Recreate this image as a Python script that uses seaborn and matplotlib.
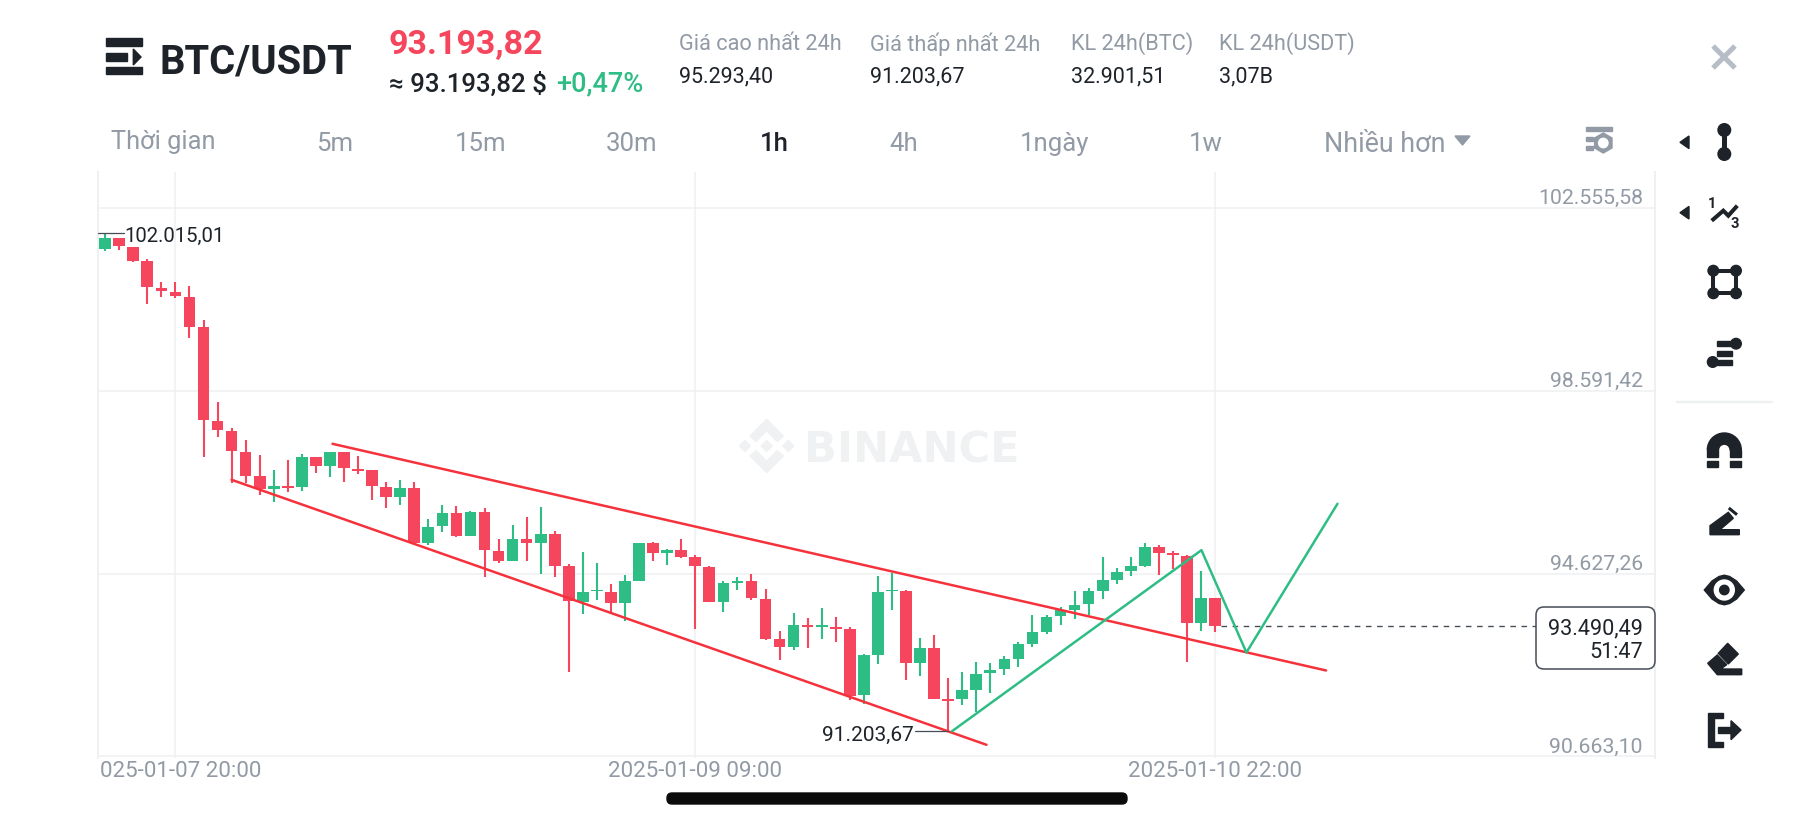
import numpy as np
import pandas as pd
import seaborn as sns
import matplotlib.pyplot as plt
from matplotlib.patches import Polygon, Circle, Wedge, FancyBboxPatch, Rectangle

opens = [101659,101890,101710,101392,100821,100734,100626,99961,97938,97714,
         97266,96739,96457,96522,96500,97151,96956,97252,96898,96862,
         96508,96284,96479,95280,95655,95930,95439,95952,95121,94890,
         95381,95287,95489,94781,94022,94254,94232,93979,94470,95280,
         95063,95128,94976,94767,94022,94420,94463,94080,93213,93033,
         93509,93473,93459,93416,91985,92867,94254,94247,92693,93011,
         91899,91899,92108,92462,92549,92780,93105,93358,93698,93835,
         93958,94254,94492,94680,94789,95200,95063,95013,93560,94102]
closes = [101890,101724,101406,100828,100749,100633,99976,97953,97736,97281,
          96753,96450,96522,96486,97151,96956,97252,96913,96848,96530,
          96277,96479,95294,95641,95930,95439,95952,95135,94890,95381,
          95287,95489,94788,94030,94232,94282,93979,94456,95280,95063,
          95128,94984,94781,94022,94413,94456,94088,93220,93033,93502,
          93473,93502,93423,91978,92852,94232,94282,92700,93011,91906,
          91870,92101,92448,92542,92766,93091,93351,93683,93842,93951,
          94240,94478,94666,94781,95200,95078,95027,93560,94102,93490]
highs = [102015,101905,101710,101442,100944,100951,100850,100127,98336,97787,
         97527,97187,96862,97086,97209,97151,97252,97252,97173,96862,
         96623,96645,96623,95800,96118,96089,95988,96046,95366,95677,
         95858,96074,95547,94839,95099,94853,94391,94586,95280,95309,
         95150,95374,95020,94796,94470,94557,94608,94290,93387,93777,
         93654,93871,93690,93473,92895,94579,94644,94282,93235,93286,
         92361,92491,92715,92679,92838,93149,93719,93719,93900,94240,
         94312,94991,94752,94991,95287,95251,95114,95034,94673,94102]
lows = [101616,101630,101377,100467,100626,100611,99730,97151,97584,96580,
        96595,96320,96183,96399,96414,96797,96710,96609,96775,96219,
        96053,96110,95258,95244,95533,95410,95439,94543,94853,94890,
        94890,94622,94550,92498,93755,94052,93762,93596,94470,94897,
        94803,94962,93416,94015,93792,94282,94044,93184,92744,92968,
        93011,93213,93155,91898,91797,92672,93835,92317,92404,91899,
        91203.67,91776,91624,92029,92433,92592,93033,93315,93503,93647,
        93734,94066,94391,94579,94760,94594,94716,92708,93380,93358]

upper_x = [16.18, 86.9]
upper_y = [97440, 92527]
lower_x = [9.0, 62.73]
lower_y = [96660, 90916]
path_x = [60.28, 78.03, 81.23, 87.71]
path_y = [91212, 95135, 92917, 96140]

price_ticks = [102555.58, 98591.42, 94627.26, 90663.10]
price_labels = ['102.555,58', '98.591,42', '94.627,26', '90.663,10']
date_pos = [5, 42, 79]
date_labels = ['025-01-07 20:00', '2025-01-09 09:00', '2025-01-10 22:00']
last_price = 93490.49

RED = '#F6465D'
GREEN = '#2EBD85'
LINE_RED = '#F5323C'
DARK = '#1E2329'
GREY = '#929AA5'
GRID = '#EFF0F2'

sns.set_theme(style='white')
plt.rcParams['font.family'] = ['Roboto', 'DejaVu Sans']

fig = plt.figure(figsize=(17.93, 8.28), dpi=100)
ax = fig.add_axes([98/1793, (828-758.5)/828, (1655-98)/1793, (758-172)/828])

df = pd.DataFrame({'i': np.arange(len(opens)), 'open': opens, 'close': closes,
                   'high': highs, 'low': lows})
df['bottom'] = df[['open', 'close']].min(axis=1)
df['body'] = (df['close'] - df['open']).abs()
df['up'] = df['close'] > df['open']

wicks = df.melt(id_vars=['i', 'up'], value_vars=['high', 'low'], value_name='price')
for up, col in [(True, GREEN), (False, RED)]:
    w = wicks[wicks['up'] == up]
    sns.lineplot(data=w, x='i', y='price', units='i', estimator=None, color=col,
                 lw=1.5, solid_capstyle='butt', ax=ax, legend=False)
    b = df[df['up'] == up]
    sns.barplot(data=b, x='i', y='body', bottom=b['bottom'].values, native_scale=True,
                color=col, saturation=1, width=0.83, errorbar=None, linewidth=0, ax=ax)

sns.lineplot(x=upper_x, y=upper_y, color=LINE_RED, lw=1.8, ax=ax, zorder=4)
sns.lineplot(x=lower_x, y=lower_y, color=LINE_RED, lw=1.8, ax=ax, zorder=4)
sns.lineplot(x=path_x, y=path_y, color=GREEN, lw=1.8, sort=False, estimator=None, ax=ax, zorder=5)
ax.plot([79.42, 102.5], [last_price, last_price], color='#474D57', lw=1, dashes=(4, 4), zorder=3)

ax.set_xlim(-0.51, 110.31)
ax.set_ylim(90641, 103342)
ax.set_xlabel('')
ax.set_ylabel('')
ax.set_yticks(price_ticks)
ax.set_xticks(date_pos)
ax.set_xticklabels([])
ax.set_yticklabels([])
ax.tick_params(length=0)
ax.grid(True, color=GRID, lw=1.1)
ax.set_axisbelow(True)
for side in ['top', 'bottom']:
    ax.spines[side].set_visible(False)
for side in ['left', 'right']:
    ax.spines[side].set_color(GRID)
    ax.spines[side].set_linewidth(1.4)

for val, lab in zip(price_ticks, price_labels):
    ax.annotate(lab, xy=(1, val), xycoords=ax.get_yaxis_transform(), xytext=(-12, 10),
                textcoords='offset pixels', ha='right', va='center', fontsize=15.3, color=GREY)

# everything outside the plot is laid out in screen pixels
ui = fig.add_axes([0, 0, 1, 1])
ui.set_xlim(0, 1793)
ui.set_ylim(828, 0)
ui.axis('off')

for lab, xp, ha in zip(date_labels, [100, 695, 1215], ['left', 'center', 'center']):
    ui.text(xp, 772, lab, fontsize=16.1, color=GREY, ha=ha, va='center')


def label(x, y, s, size, color=DARK, ha='left', weight='normal'):
    ui.text(x, y, s, fontsize=size, color=color, ha=ha, va='center', fontweight=weight)


label(160, 62, 'BTC/USDT', 28.8, weight='bold')
label(389, 45, '93.193,82', 24.5, RED, weight='bold')
label(389, 84, '≈ 93.193,82 $', 18.6, weight='medium')
label(556, 84, '+0,47%', 19.5, GREEN, weight='medium')
header = [(679, 'Giá cao nhất 24h', '95.293,40'), (870, 'Giá thấp nhất 24h', '91.203,67'),
          (1071, 'KL 24h(BTC)', '32.901,51'), (1219, 'KL 24h(USDT)', '3,07B')]
for x, top, bottom in header:
    label(x, 44, top, 15.7, GREY)
    label(x, 77, bottom, 15.5)

label(111, 142, 'Thời gian', 18.3, GREY)
tabs = [(335, '5m'), (481, '15m'), (632, '30m'), (904, '4h'), (1054, '1ngày'), (1206, '1w')]
for x, s in tabs:
    label(x, 144, s, 18.5, GREY, ha='center')
label(774, 144, '1h', 18.5, DARK, ha='center', weight='medium')
label(1324, 144, 'Nhiều hơn', 19.4, GREY)
ui.add_patch(Polygon([[1455, 137], [1470, 137], [1462.5, 146]], color=GREY))

# annotations of the high, low and last price
ui.plot([98, 124], [233.5, 233.5], color='#474D57', lw=0.9)
label(124, 236, '102.015,01', 14.7)
ui.plot([915, 948], [732, 732], color='#474D57', lw=0.9)
label(914, 735, '91.203,67', 15, ha='right')
ui.add_patch(FancyBboxPatch((1540, 612), 111, 54, boxstyle='round,pad=4,rounding_size=8',
                            fc='white', ec='#474D57', lw=1.1, zorder=6))
ui.text(1643, 629, '93.490,49', fontsize=15.6, color=DARK, ha='right', va='center', zorder=7)
ui.text(1643, 653, '51:47', fontsize=15.6, color=DARK, ha='right', va='center', zorder=7)

# watermark
WM = '#EFF1F3'
mid = 447
ui.add_patch(Polygon([[766.7, mid-5.5], [772.2, mid], [766.7, mid+5.5], [761.2, mid]], color=WM))
ui.add_patch(Polygon([[745, mid-5.5], [750.5, mid], [745, mid+5.5], [739.5, mid]], color=WM))
ui.add_patch(Polygon([[788.3, mid-5.5], [793.8, mid], [788.3, mid+5.5], [782.8, mid]], color=WM))
for s in [-1, 1]:
    ui.add_patch(Polygon([[766.7, mid+s*26.7], [783.3, mid+s*10], [777.3, mid+s*4.5],
                          [766.7, mid+s*15.3], [756, mid+s*4.5], [750, mid+s*10]], color=WM))
ui.text(804, 451, 'BINANCE', fontsize=31, color=WM, fontweight='bold', va='center',
        family='DejaVu Sans')

# menu icon
ui.add_patch(Rectangle((106, 39.3), 35.7, 7.4, color=DARK))
ui.add_patch(Rectangle((106, 54), 21.3, 7.7, color=DARK))
ui.add_patch(Rectangle((106, 68.3), 35.7, 6.7, color=DARK))
ui.add_patch(Polygon([[133.3, 50], [141, 58], [133.3, 66]], color=DARK))

# close cross
ui.plot([1713, 1735], [47, 69], color='#B7BDC6', lw=3.6, solid_capstyle='butt')
ui.plot([1713, 1735], [69, 47], color='#B7BDC6', lw=3.6, solid_capstyle='butt')

# settings icon
ui.add_patch(Rectangle((1585.7, 127.7), 26, 4, color=GREY))
ui.add_patch(Rectangle((1585.7, 137.7), 7, 4.6, color=GREY))
ui.add_patch(Rectangle((1585.7, 146.7), 7, 4.3, color=GREY))
ui.add_patch(Polygon([[1603.3, 134], [1612, 139], [1612, 149], [1603.3, 154], [1594.6, 149], [1594.6, 139]], color=GREY))
ui.add_patch(Circle((1603.3, 144), 4.7, color='white'))

# drawing toolbar
ICON = '#1E2329'
for yc in [143.3, 213.7]:
    ui.add_patch(Polygon([[1689, yc-6.3], [1689, yc+6.3], [1680, yc]], color=ICON))

ui.plot([1724.3, 1724.3], [131, 155], color=ICON, lw=3.6)
ui.add_patch(Circle((1724.3, 131), 6.3, color=ICON))
ui.add_patch(Circle((1724.3, 155), 6.3, color=ICON))

ui.plot([1711.7, 1723.3, 1728.3, 1737.3], [221.7, 211.7, 216.7, 206.7], color=ICON, lw=2.9,
        solid_capstyle='butt', solid_joinstyle='miter')
ui.text(1712, 204.5, '1', fontsize=10.5, fontweight='bold', color=ICON, ha='center', va='center')
ui.text(1735, 224, '3', fontsize=10.5, fontweight='bold', color=ICON, ha='center', va='center')

ui.add_patch(Rectangle((1713.3, 271.7), 22.7, 22.6, fc='none', ec=ICON, lw=2.9))
for cx, cy in [(1713.3, 271.7), (1736, 271.7), (1713.3, 294.3), (1736, 294.3)]:
    ui.add_patch(Circle((cx, cy), 5.3, color=ICON))

ui.add_patch(Circle((1736, 344.7), 5.3, color=ICON))
ui.add_patch(Circle((1712.7, 363), 5.3, color=ICON))
for y0 in [344.7, 354, 363]:
    ui.add_patch(Rectangle((1717.3, y0-2.5), 14.7, 5, color=ICON))

ui.add_patch(Rectangle((1676, 402), 96, 1.2, color=GRID))

ui.add_patch(Wedge((1724.3, 451), 17, 180, 360, width=11.2, color=ICON))
for x0 in [1707.3, 1730.3]:
    ui.add_patch(Rectangle((x0, 451), 11, 7.3, color=ICON))
    ui.add_patch(Rectangle((x0, 462.3), 11, 5.4, color=ICON))

ui.add_patch(Polygon([[1710, 526.7], [1728.3, 513.3], [1733.3, 519.3], [1720, 530.7],
                      [1739.3, 530.7], [1739.3, 535.7], [1710, 535.7]], color=ICON))
ui.plot([1728.8, 1737], [509, 515.7], color=ICON, lw=2.2, solid_capstyle='butt')

ui.add_patch(Polygon([[1704.3, 591], [1712, 582], [1719, 577.5], [1724.3, 576.2], [1729.6, 577.5], [1736.6, 582], [1744.3, 591],
                      [1736.6, 600], [1729.6, 604.5], [1724.3, 605.8], [1719, 604.5], [1712, 600]], color=ICON))
ui.add_patch(Circle((1724.3, 591), 10, color='white'))
ui.add_patch(Circle((1724.3, 591), 4.7, color=ICON))

ui.add_patch(Polygon([[1727.7, 644.3], [1738.3, 655], [1728.3, 665], [1718.3, 654.3]], color=ICON))
ui.add_patch(Polygon([[1707.7, 664.3], [1717.3, 656], [1726.7, 665.7], [1720.7, 670], [1741.7, 670],
                      [1741.7, 675.7], [1717.3, 675.7]], color=ICON))

ui.add_patch(Polygon([[1708.3, 714.3], [1723.3, 714.3], [1723.3, 719.3], [1714, 719.3], [1714, 742.7],
                      [1723.3, 742.7], [1723.3, 747.7], [1708.3, 747.7]], color=ICON))
ui.add_patch(Rectangle((1718.3, 728.3), 13.4, 5.7, color=ICON))
ui.add_patch(Polygon([[1731, 721.7], [1741, 731], [1731, 740.7]], color=ICON))

# home indicator
ui.add_patch(FancyBboxPatch((672, 799), 450, 1, boxstyle='round,pad=5,rounding_size=5', color='#0B0B0B'))

fig.savefig('out.png', dpi=100)
